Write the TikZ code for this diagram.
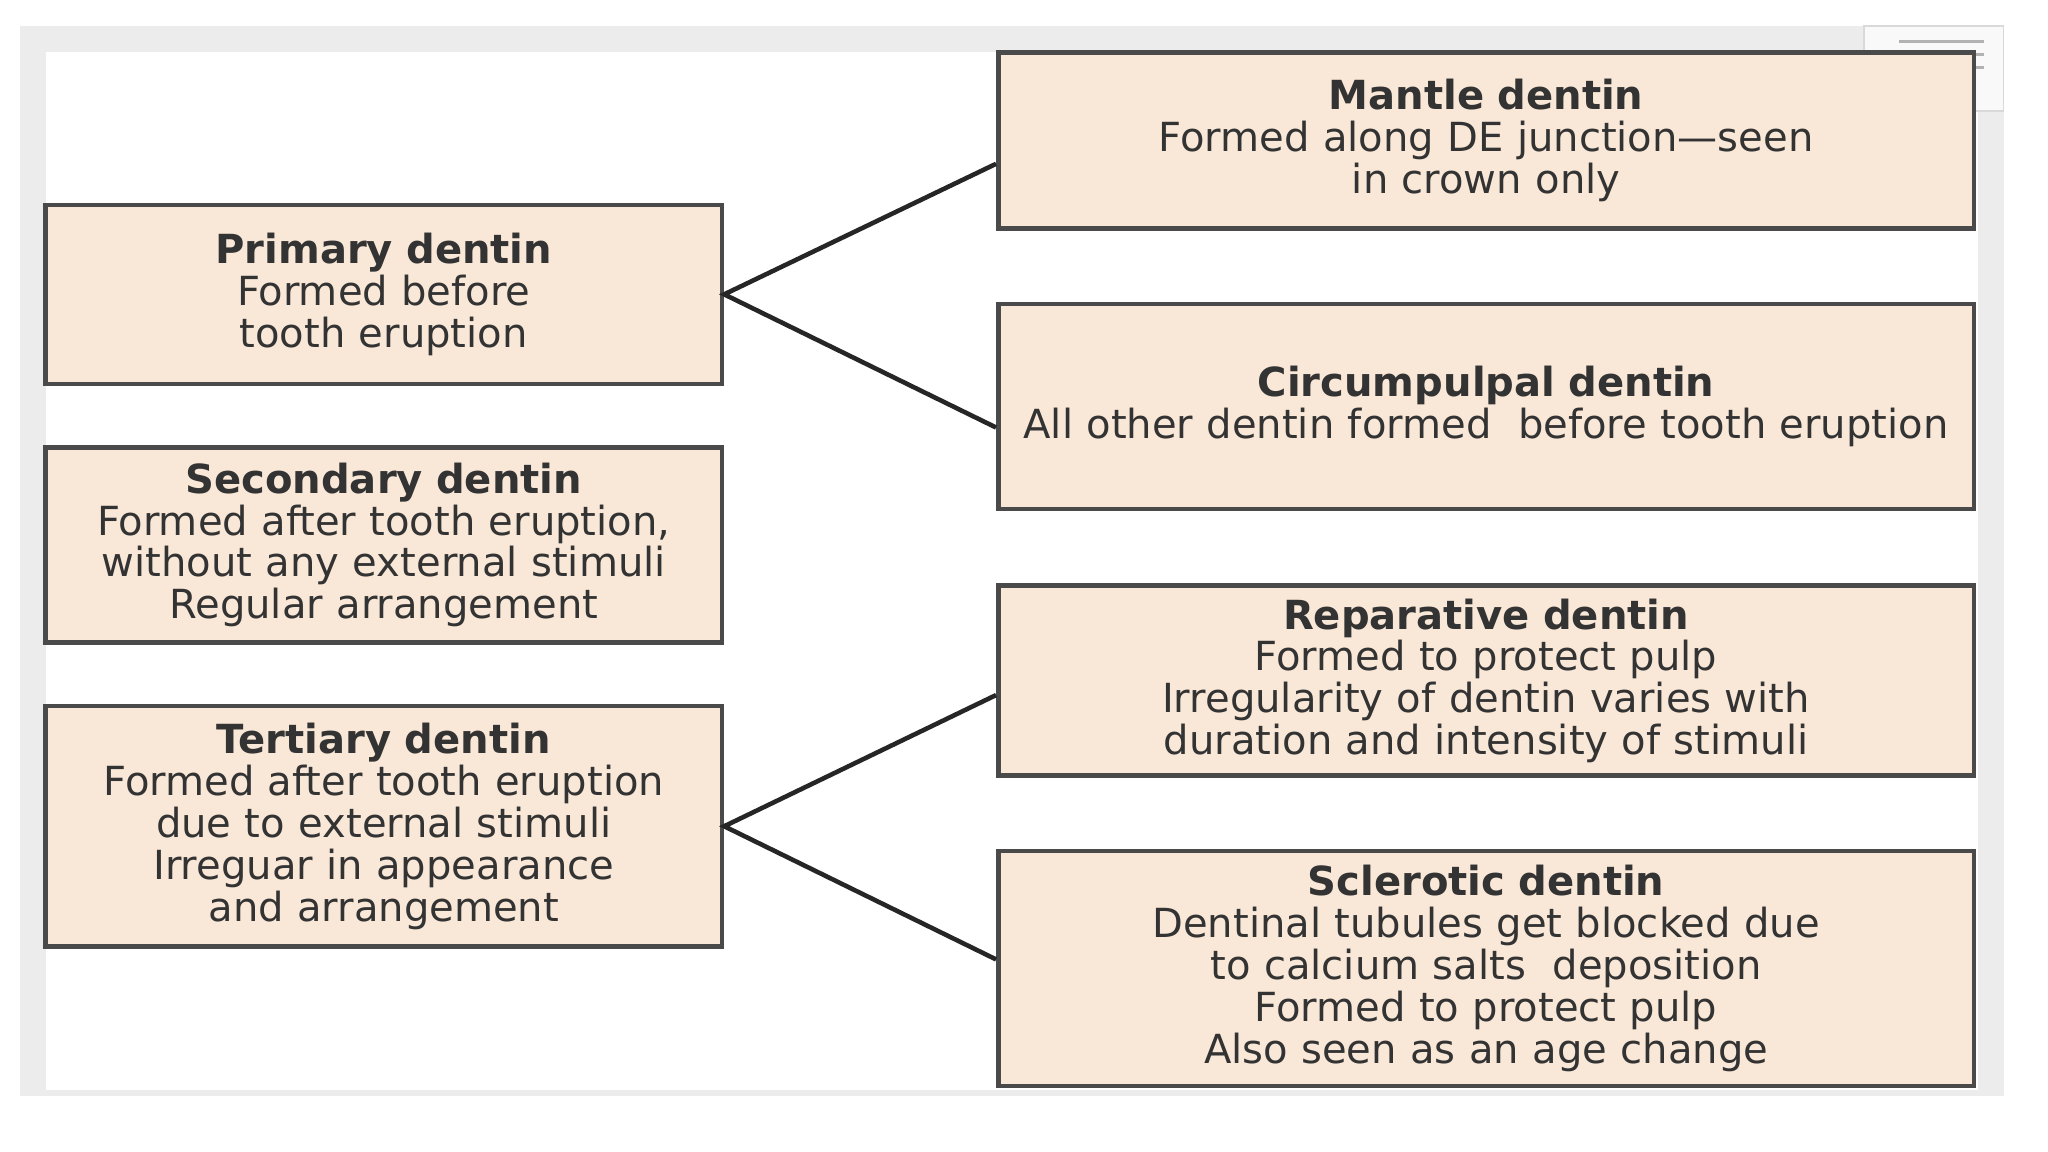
\documentclass[tikz,border=0pt]{standalone}
\usepackage{fontspec}
\setmainfont{DejaVu Sans}
\usetikzlibrary{calc}
\definecolor{boxfill}{HTML}{F9E8D8}
\definecolor{boxline}{HTML}{4A4A4A}
\tikzset{
    dbox/.style={draw=boxline, line width=1.3pt, fill=boxfill, align=center,
        font=\fontsize{11.4}{11.9}\selectfont, text=black!80, inner sep=2pt},
    lbox/.style={dbox, minimum width=6.76cm, text width=6.6cm},
    rbox/.style={dbox, minimum width=9.75cm, text width=9.6cm},
    link/.style={draw=black!85, line width=1.3pt}
}
\begin{document}
\begin{tikzpicture}[x=0.013053cm,y=-0.013053cm]
    \useasboundingbox (0,0) rectangle (1569,882);
    \fill[white] (0,0) rectangle (1569,882);
    \fill[gray!15] (15,20) rectangle (1535,840);
    \fill[white] (35,40) rectangle (1515,835);

    %menu icon
    \draw[gray!30, fill=gray!5] (1428,20) rectangle (1535,85);
    \foreach \y in {32,42,52} {
        \draw[gray!60, line width=0.8pt] (1455,\y) -- (1520,\y);
    }

    %left column
    \node[lbox, minimum height=1.79cm] (Primary) at (294,225.5)
        {\textbf{Primary dentin}\\Formed before\\tooth eruption};
    \node[lbox, minimum height=1.95cm] (Secondary) at (294,417.5)
        {\textbf{Secondary dentin}\\Formed after tooth eruption,\\without any external stimuli\\Regular arrangement};
    \node[lbox, minimum height=2.40cm] (Tertiary) at (294,633)
        {\textbf{Tertiary dentin}\\Formed after tooth eruption\\due to external stimuli\\Irreguar in appearance\\and arrangement};

    %right column
    \node[rbox, minimum height=1.76cm] (Mantle) at (1138.5,107.5)
        {\textbf{Mantle dentin}\\Formed along DE junction---seen\\in crown only};
    \node[rbox, minimum height=2.05cm] (Circum) at (1138.5,311.5)
        {\textbf{Circumpulpal dentin}\\All other dentin formed\ \ before tooth eruption};
    \node[rbox, minimum height=1.90cm] (Reparative) at (1138.5,521.5)
        {\textbf{Reparative dentin}\\Formed to protect pulp\\Irregularity of dentin varies with\\duration and intensity of stimuli};
    \node[rbox, minimum height=2.35cm] (Sclerotic) at (1138.5,742)
        {\textbf{Sclerotic dentin}\\Dentinal tubules get blocked due\\to calcium salts\ \ deposition\\Formed to protect pulp\\Also seen as an age change};

    \draw[link] ($(Mantle.west)+(0,18)$) -- (Primary.east) -- ($(Circum.west)+(0,16)$);
    \draw[link] ($(Reparative.west)+(0,11)$) -- (Tertiary.east) -- ($(Sclerotic.west)+(0,-7)$);
\end{tikzpicture}
\end{document}
